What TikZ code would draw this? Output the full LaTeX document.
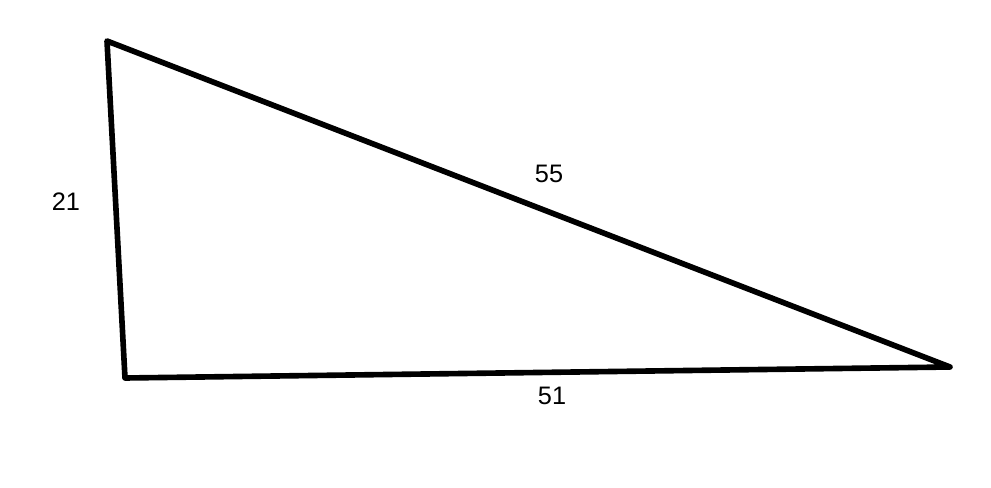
\documentclass[tikz,border=0pt]{standalone}
\usepackage{fontspec}
\setmainfont{Liberation Sans}
\usetikzlibrary{positioning}

\begin{document}
\begin{tikzpicture}
            \useasboundingbox (0, 0) rectangle (24.775, 12.175);

            \coordinate (top) at (2.675, 11.15);
            \coordinate (bl) at (3.125, 2.725);
            \coordinate (rt) at (23.75, 3.0);

            \draw[line width=4pt, line join=round, line cap=round](top)--(bl)--(rt)--cycle;

            \fontsize{18}{21}\selectfont
            \node (sidea) at (1.65, 7.125){21};
            \node (sidec) at (13.725, 7.825){55};
            \node (sideb) at (13.8, 2.275){51};

        \end{tikzpicture}
\end{document}
